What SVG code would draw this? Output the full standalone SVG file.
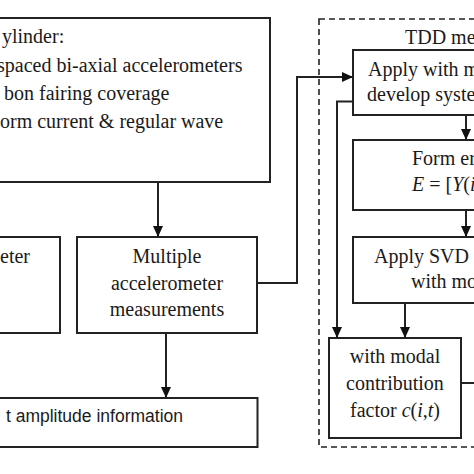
<svg xmlns="http://www.w3.org/2000/svg" width="474" height="474" viewBox="0 0 474 474">
<style>
.box{fill:#fff;stroke:#222;stroke-width:2}
.dash{fill:none;stroke:#222;stroke-width:1.6;stroke-dasharray:6,4}
.t{font-family:"Liberation Serif","Times New Roman",serif;font-size:20px;fill:#1a1a1a}
.c{text-anchor:middle}
.s{font-family:"Liberation Sans",Arial,sans-serif;font-size:17.5px;fill:#1a1a1a}
.conn{fill:none;stroke:#222;stroke-width:2}
</style>
<defs>
<marker id="ah" markerUnits="userSpaceOnUse" markerWidth="12" markerHeight="12" viewBox="0 0 12 12" refX="11" refY="6" orient="auto">
<path d="M0,1 L11,6 L0,11 Z" fill="#111"/>
</marker>
</defs>
<rect width="474" height="474" fill="#fff"/>
<rect id="tdd-frame" class="dash" x="319" y="19" width="200" height="428"/>
<g id="setup">
<rect class="box" x="-10" y="18" width="280" height="164"/>
<text class="t" x="2" y="43">ylinder:</text>
<text class="t" x="-3" y="72">spaced bi-axial accelerometers</text>
<text class="t" x="4" y="100">bon fairing coverage</text>
<text class="t" x="0" y="128">orm current &amp; regular wave</text>
</g>
<g id="single">
<rect class="box" x="-10" y="237" width="70" height="96"/>
<text class="t" x="30" y="263" text-anchor="end">eter</text>
</g>
<g id="multiple">
<rect class="box" x="77" y="237" width="180" height="96"/>
<text class="t c" x="167" y="263">Multiple</text>
<text class="t c" x="167" y="290">accelerometer</text>
<text class="t c" x="167" y="316">measurements</text>
</g>
<g id="amplitude">
<rect class="box" x="-10" y="398" width="267.5" height="49"/>
<text class="s" x="183" y="422" text-anchor="end">t amplitude information</text>
</g>
<g id="tdd-label">
<text class="t" x="405" y="44">TDD me</text>
</g>
<g id="apply">
<rect class="box" x="353" y="50" width="140" height="65"/>
<text class="t" x="368" y="76">Apply with m</text>
<text class="t" x="367" y="101">develop syste</text>
</g>
<g id="form">
<rect class="box" x="353" y="140" width="140" height="70"/>
<text class="t" x="412" y="165">Form er</text>
<text class="t" x="412" y="191"><tspan font-style="italic">E</tspan> = [<tspan font-style="italic">Y</tspan>(<tspan font-style="italic">i</tspan></text>
</g>
<g id="svd">
<rect class="box" x="353" y="237" width="140" height="66"/>
<text class="t" x="374" y="263">Apply SVD</text>
<text class="t" x="411" y="288">with mo</text>
</g>
<g id="modal">
<rect class="box" x="329" y="338" width="132" height="100"/>
<text class="t c" x="395" y="363">with modal</text>
<text class="t c" x="395" y="390">contribution</text>
<text class="t c" x="395" y="417">factor <tspan font-style="italic">c</tspan>(<tspan font-style="italic">i</tspan>,<tspan font-style="italic">t</tspan>)</text>
</g>
<g id="connectors">
<path class="conn" d="M158,182 V237" marker-end="url(#ah)"/>
<path class="conn" d="M166,333 V398" marker-end="url(#ah)"/>
<path class="conn" d="M257,283 H297 V77 H353" marker-end="url(#ah)"/>
<path class="conn" d="M353,101.5 H337 V338" marker-end="url(#ah)"/>
<path class="conn" d="M466,115 V140" marker-end="url(#ah)"/>
<path class="conn" d="M466,210 V237" marker-end="url(#ah)"/>
<path class="conn" d="M405,303 V338" marker-end="url(#ah)"/>
<path class="conn" d="M461,383 H476"/>
</g>
</svg>
